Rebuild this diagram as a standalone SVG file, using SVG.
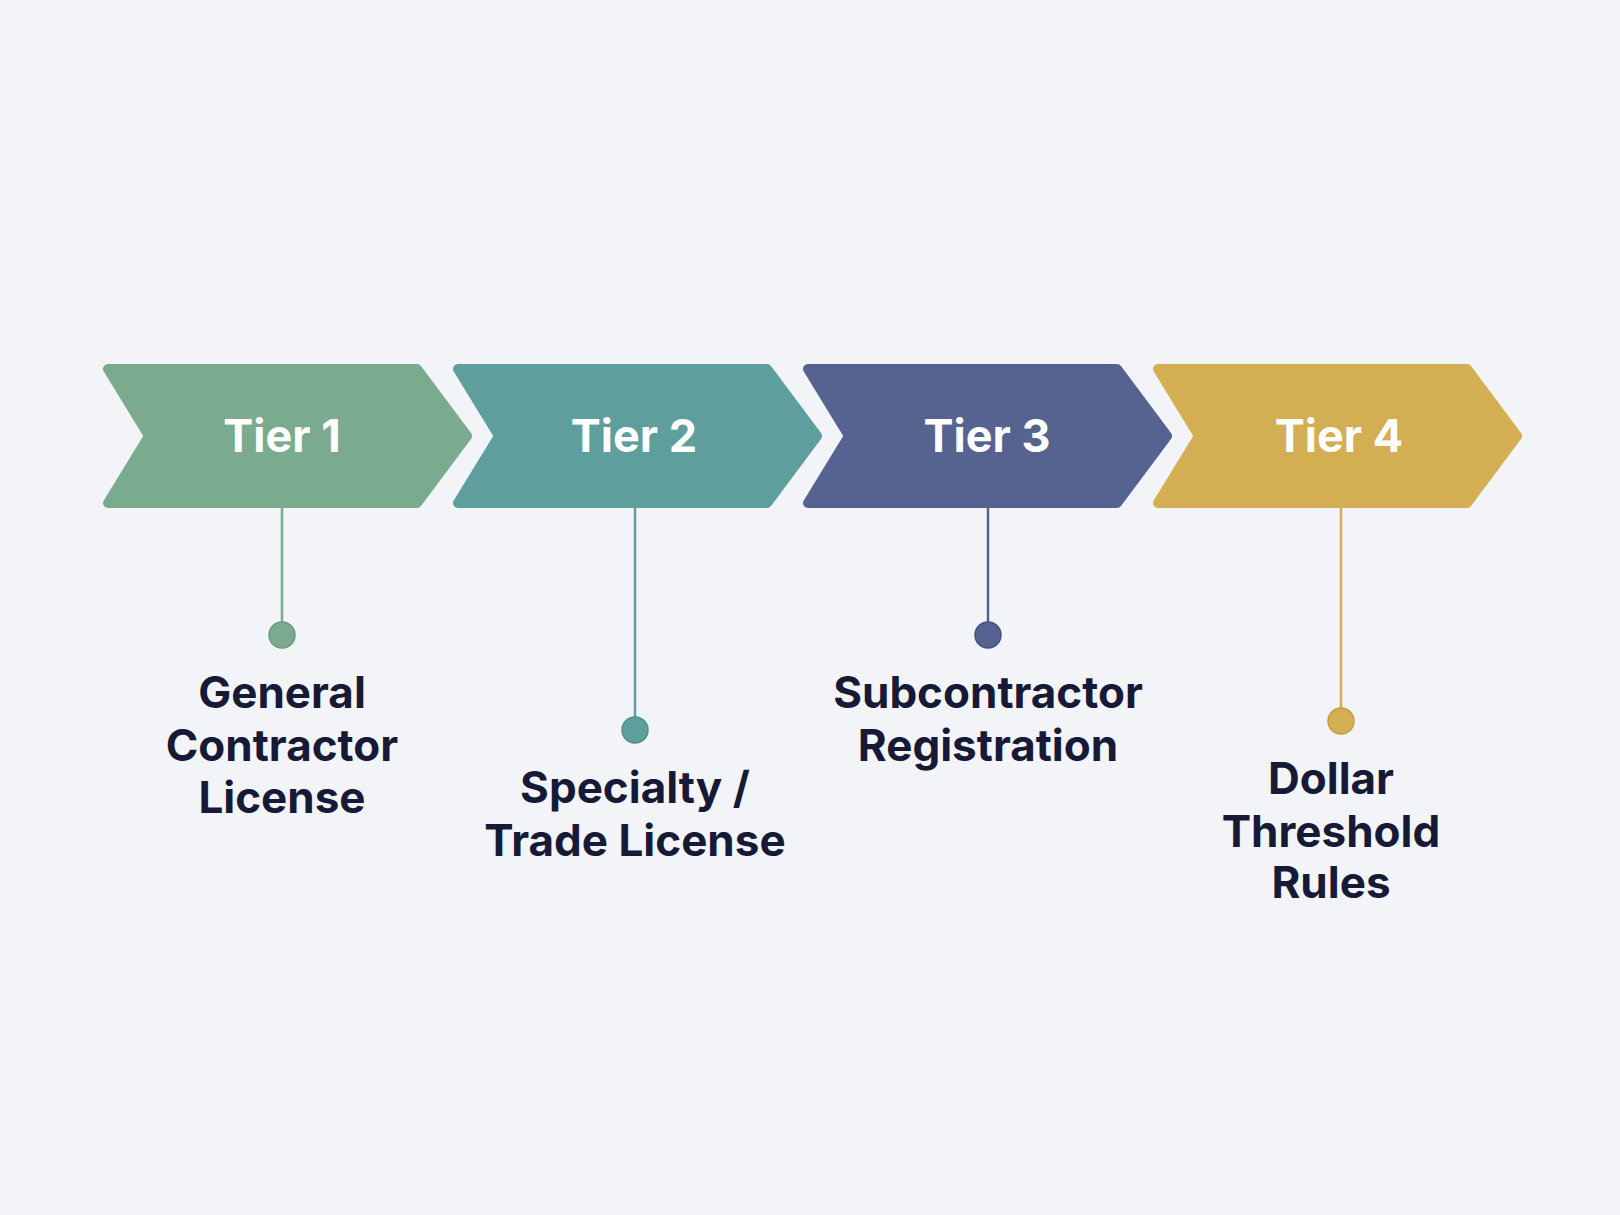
<svg xmlns="http://www.w3.org/2000/svg" width="1620" height="1215" viewBox="0 0 1620 1215">
<style>
.chev{stroke-width:10;stroke-linejoin:round}
.tier{font-family:Inter,"Liberation Sans",sans-serif;font-weight:700;font-size:45px;fill:#fff;text-anchor:middle}
.lbl{font-family:Inter,"Liberation Sans",sans-serif;font-weight:700;font-size:44px;fill:#161a36;text-anchor:middle}
.ln{stroke-width:2.5}
</style>
<rect width="1620" height="1215" fill="#f3f4f8"/>
<g id="tier1">
<path class="chev" fill="#7aab8f" stroke="#7aab8f" d="M108,369 H417 L467,436 L417,503 H108 L149,436 Z"/>
<text class="tier" x="282" y="452">Tier 1</text>
</g>
<g id="tier2">
<path class="chev" fill="#5e9e9c" stroke="#5e9e9c" d="M458,369 H767 L817,436 L767,503 H458 L499,436 Z"/>
<text class="tier" x="634" y="452">Tier 2</text>
</g>
<g id="tier3">
<path class="chev" fill="#56628f" stroke="#56628f" d="M808,369 H1117 L1167,436 L1117,503 H808 L849,436 Z"/>
<text class="tier" x="987" y="452">Tier 3</text>
</g>
<g id="tier4">
<path class="chev" fill="#d4ae52" stroke="#d4ae52" d="M1158,369 H1467 L1517,436 L1467,503 H1158 L1199,436 Z"/>
<text class="tier" x="1339" y="452">Tier 4</text>
</g>
<g id="connectors">
<line class="ln" x1="282" y1="508" x2="282" y2="634" stroke="#7aab8f"/>
<circle cx="282" cy="635" r="13" fill="#7aab8f" stroke="#6a9a7f" stroke-width="1.5"/>
<line class="ln" x1="635" y1="508" x2="635" y2="729" stroke="#5e9e9c"/>
<circle cx="635" cy="730" r="13" fill="#5e9e9c" stroke="#4e8e8c" stroke-width="1.5"/>
<line class="ln" x1="988" y1="508" x2="988" y2="634" stroke="#56628f"/>
<circle cx="988" cy="635" r="13" fill="#56628f" stroke="#46527f" stroke-width="1.5"/>
<line class="ln" x1="1341" y1="508" x2="1341" y2="720" stroke="#d4ae52"/>
<circle cx="1341" cy="721" r="13" fill="#d4ae52" stroke="#c49e42" stroke-width="1.5"/>
</g>
<g id="label1"><text class="lbl" x="282" y="708">General</text><text class="lbl" x="282" y="761">Contractor</text><text class="lbl" x="282" y="813">License</text></g>
<g id="label2"><text class="lbl" x="635" y="803">Specialty /</text><text class="lbl" x="635" y="856">Trade License</text></g>
<g id="label3"><text class="lbl" x="988" y="708">Subcontractor</text><text class="lbl" x="988" y="761">Registration</text></g>
<g id="label4"><text class="lbl" x="1331" y="794">Dollar</text><text class="lbl" x="1331" y="847">Threshold</text><text class="lbl" x="1331" y="898">Rules</text></g>
</svg>
